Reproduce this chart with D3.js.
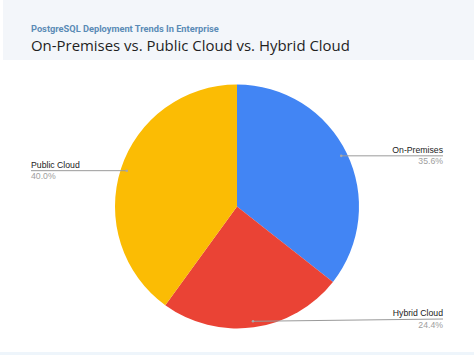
<!DOCTYPE html>
<html>
<head>
<meta charset="utf-8">
<script src="https://cdn.jsdelivr.net/npm/d3@7"></script>
<style>
  html, body { margin: 0; padding: 0; background: #fff; }
  svg { display: block; }
</style>
</head>
<body>
<svg id="chart"></svg>
<script>
// data
const categories = ["On-Premises", "Hybrid Cloud", "Public Cloud"];
const shares = [35.6, 24.4, 40.0];
const sliceColors = ["#4285f4", "#ea4335", "#fbbc04"];

const subtitle = "PostgreSQL Deployment Trends In Enterprise";
const title = "On-Premises vs. Public Cloud vs. Hybrid Cloud";

const width = 474, height = 355;
const cx = 237, cy = 206.5, radius = 122;
const leftX = 31, rightX = 443;

const svg = d3.select("#chart")
  .attr("width", width)
  .attr("height", height);

// header band
svg.append("rect")
  .attr("x", 3).attr("y", 0)
  .attr("width", width - 3).attr("height", 60)
  .attr("fill", "#f3f6fa");
svg.append("rect")
  .attr("x", 0).attr("y", 352)
  .attr("width", width).attr("height", 3)
  .attr("fill", "#eef5fb");

// fit a text element to a given width
function fitText(sel, target){
  const fs = parseFloat(sel.attr("font-size"));
  const len = sel.node().getComputedTextLength();
  sel.attr("font-size", fs * target / len);
}

const sub = svg.append("text")
  .attr("x", leftX).attr("y", 32)
  .attr("font-family", "'Liberation Sans Narrow', Roboto, sans-serif")
  .attr("font-weight", 700)
  .attr("font-size", 10)
  .attr("fill", "#5a8bb6")
  .text(subtitle);
fitText(sub, 188);

const ttl = svg.append("text")
  .attr("x", leftX).attr("y", 51)
  .attr("font-family", "'Open Sans', 'Noto Sans', sans-serif")
  .attr("font-size", 15.5)
  .attr("fill", "#1f1f1f")
  .text(title);
fitText(ttl, 319);

const color = d3.scaleOrdinal().domain(categories).range(sliceColors);

const data = categories.map((c, i) => ({name: c, value: shares[i]}));

const pie = d3.pie()
  .value(d => d.value)
  .sort(null);

const arc = d3.arc().innerRadius(0).outerRadius(radius);

const g = svg.append("g")
  .attr("transform", "translate(" + cx + "," + cy + ")");

const arcs = pie(data);

g.selectAll("path.slice")
  .data(arcs)
  .enter()
  .append("path")
  .attr("class", "slice")
  .attr("d", arc)
  .attr("fill", d => color(d.data.name));

// leader lines + labels
const labels = svg.append("g");
arcs.forEach(a => {
  const mid = (a.startAngle + a.endAngle) / 2;
  const r = radius * 0.95;
  const px = cx + Math.sin(mid) * r;
  const py = cy - Math.cos(mid) * r;
  const right = Math.sin(mid) >= 0;
  const ex = right ? rightX : leftX;
  const ey = Math.min(py, 319);

  labels.append("line")
    .attr("x1", px).attr("y1", py)
    .attr("x2", ex).attr("y2", ey)
    .attr("stroke", "#9a9a9a")
    .attr("stroke-width", 1);
  labels.append("circle")
    .attr("cx", px).attr("cy", py).attr("r", 1.3)
    .attr("fill", "#a8a8a8");

  labels.append("text")
    .attr("x", ex).attr("y", ey - 3)
    .attr("text-anchor", right ? "end" : "start")
    .attr("font-family", "'Liberation Sans', Arial, sans-serif")
    .attr("font-size", 8.7)
    .attr("fill", "#222")
    .text(a.data.name);
  labels.append("text")
    .attr("x", ex).attr("y", ey + 8.5)
    .attr("text-anchor", right ? "end" : "start")
    .attr("font-family", "'Liberation Sans', Arial, sans-serif")
    .attr("font-size", 8.7)
    .attr("fill", "#9e9e9e")
    .text(a.data.value.toFixed(1) + "%");
});
</script>
</body>
</html>
